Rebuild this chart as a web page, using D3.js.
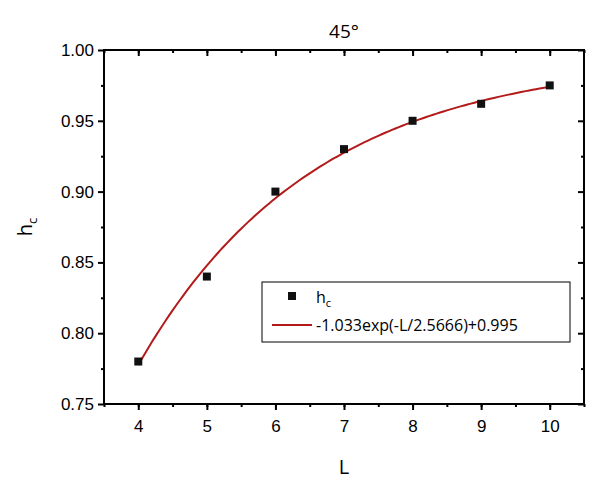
<!DOCTYPE html>
<html><head><meta charset="utf-8">
<script src="https://cdn.jsdelivr.net/npm/d3@7.9.0/dist/d3.min.js"></script>
<style>body{margin:0;background:#fff}text{font-family:"Open Sans",Arial,sans-serif}</style>
</head><body><svg id="c" width="600" height="489"></svg>
<script>
const L = [4, 5, 6, 7, 8, 9, 10];
const hc = [0.78, 0.84, 0.90, 0.93, 0.95, 0.962, 0.975];
const fitA = -1.033, fitT = 2.5666, fitY0 = 0.995;
const xTicks = [4, 5, 6, 7, 8, 9, 10];
const yTicks = [0.75, 0.80, 0.85, 0.90, 0.95, 1.00];

const svg = d3.select('#c');
const m = { l: 104, r: 584, t: 50, b: 404 };
const x = d3.scaleLinear().domain([3.5, 10.5]).range([m.l, m.r]);
const y = d3.scaleLinear().domain([0.75, 1.0]).range([m.b, m.t]);

const ax = (g, a) => g.call(a).call(s => s.select('.domain').remove())
  .call(s => s.selectAll('line').attr('stroke', '#000').attr('stroke-width', 2))
  .call(s => s.selectAll('text').style('font-size', '17px').style('font-family', '"Liberation Sans", Arial, sans-serif').attr('fill', '#000'));

const minorX = d3.range(3.5, 10.6, 0.5), minorY = d3.range(0.775, 1.0, 0.05);

// bottom
ax(svg.append('g').attr('transform', `translate(0,${m.b})`),
  d3.axisBottom(x).tickValues(xTicks).tickFormat(d3.format('d')).tickSize(6).tickPadding(10));
ax(svg.append('g').attr('transform', `translate(0,${m.b})`),
  d3.axisBottom(x).tickValues(minorX).tickFormat('').tickSize(3));
// top (inward)
ax(svg.append('g').attr('transform', `translate(0,${m.t})`),
  d3.axisBottom(x).tickValues(xTicks).tickFormat('').tickSize(6));
ax(svg.append('g').attr('transform', `translate(0,${m.t})`),
  d3.axisBottom(x).tickValues(minorX).tickFormat('').tickSize(3));
// left
ax(svg.append('g').attr('transform', `translate(${m.l},0)`),
  d3.axisLeft(y).tickValues(yTicks).tickFormat(d3.format('.2f')).tickSize(6).tickPadding(4));
ax(svg.append('g').attr('transform', `translate(${m.l},0)`),
  d3.axisLeft(y).tickValues(minorY).tickFormat('').tickSize(3));
// right (inward)
ax(svg.append('g').attr('transform', `translate(${m.r},0)`),
  d3.axisLeft(y).tickValues(yTicks).tickFormat('').tickSize(6));
ax(svg.append('g').attr('transform', `translate(${m.r},0)`),
  d3.axisLeft(y).tickValues(minorY).tickFormat('').tickSize(3));

svg.append('rect').attr('x', m.l).attr('y', m.t).attr('width', m.r - m.l).attr('height', m.b - m.t)
  .attr('fill', 'none').attr('stroke', '#000').attr('stroke-width', 2);

const fit = d3.range(4, 10.001, 0.05).map(v => [v, fitA * Math.exp(-v / fitT) + fitY0]);
svg.append('path').datum(fit).attr('fill', 'none').attr('stroke', '#b31b1b').attr('stroke-width', 2)
  .attr('d', d3.line().x(d => x(d[0])).y(d => y(d[1])));

svg.selectAll('rect.pt').data(L).join('rect').attr('class', 'pt')
  .attr('x', (d) => x(d) - 4).attr('y', (d, i) => y(hc[i]) - 4).attr('width', 8).attr('height', 8).attr('fill', '#111');

// legend
const lg = svg.append('g').attr('transform', 'translate(262,282)');
lg.append('rect').attr('width', 308).attr('height', 60).attr('fill', '#fff').attr('stroke', '#000').attr('stroke-width', 1);
lg.append('rect').attr('x', 26).attr('y', 10).attr('width', 8).attr('height', 8).attr('fill', '#111');
lg.append('text').attr('x', 54).attr('y', 21).attr('font-size', 16).text('h').append('tspan').attr('font-size', 11).attr('dy', 4).text('c');
lg.append('line').attr('x1', 10).attr('x2', 50).attr('y1', 43).attr('y2', 43).attr('stroke', '#b31b1b').attr('stroke-width', 2);
lg.append('text').attr('x', 54).attr('y', 49).attr('font-size', 16).text('-1.033exp(-L/2.5666)+0.995');

svg.append('text').attr('x', 344).attr('y', 38).attr('text-anchor', 'middle').attr('font-size', 19).text('45°');
svg.append('text').attr('x', 344).attr('y', 474).attr('text-anchor', 'middle').attr('font-size', 20).text('L');
svg.append('text').attr('transform', 'translate(32,227) rotate(-90)').attr('text-anchor', 'middle').attr('font-size', 20)
  .text('h').append('tspan').attr('font-size', 13).attr('dy', 5).text('c');
</script></body></html>
